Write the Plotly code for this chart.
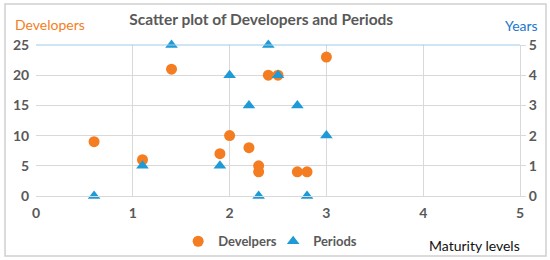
import plotly.graph_objects as go

# Data
dev_x = [0.6, 1.1, 1.4, 1.9, 2.0, 2.2, 2.3, 2.3, 2.4, 2.5, 2.7, 2.8, 3.0]
dev_y = [9, 6, 21, 7, 10, 8, 5, 4, 20, 20, 4, 4, 23]
per_x = [0.6, 1.1, 1.4, 1.9, 2.0, 2.2, 2.3, 2.4, 2.5, 2.7, 2.8, 3.0]
per_y = [0, 1, 5, 1, 4, 3, 0, 5, 4, 3, 0, 2]
x_ticks = [0, 1, 2, 3, 4, 5]
y_ticks = [0, 5, 10, 15, 20, 25]
y2_ticks = [0, 1, 2, 3, 4, 5]

ORANGE = "#F47D22"
BLUE = "#1E9AD6"
GRID = "#D9D9D9"
TXT = "#595959"
FONT = "Lato"

fig = go.Figure()
fig.add_trace(go.Scatter(x=dev_x, y=dev_y, mode="markers", name="Develpers",
                         marker=dict(symbol="circle", size=11, color=ORANGE),
                         cliponaxis=False, yaxis="y"))
fig.add_trace(go.Scatter(x=per_x, y=per_y, mode="markers", name="Periods",
                         marker=dict(symbol="triangle-up", size=11, color=BLUE),
                         cliponaxis=False, yaxis="y2"))

tickfont = dict(family=FONT, size=14, color=TXT, weight="bold")

fig.update_layout(
    width=550, height=260,
    margin=dict(l=36, r=30, t=45, b=64, autoexpand=False),
    paper_bgcolor="white", plot_bgcolor="white",
    title=dict(text="Scatter plot of Developers and Periods", x=0.475, xanchor="center",
               y=0.925, yanchor="middle",
               font=dict(family=FONT, size=15.5, color=TXT, weight="bold")),
    xaxis=dict(range=[0, 5], tickvals=x_ticks, showgrid=True, gridcolor=GRID, gridwidth=1,
               zeroline=False, showline=True, linecolor=GRID, linewidth=1,
               tickfont=tickfont, ticks="outside", ticklen=4, tickcolor="white",
               automargin=False),
    yaxis=dict(range=[0, 25], tickvals=y_ticks, showgrid=True, gridcolor=GRID, gridwidth=1,
               zeroline=False, showline=False, tickfont=tickfont,
               ticks="outside", ticklen=3, tickcolor="white", automargin=False),
    yaxis2=dict(range=[0, 5], tickvals=y2_ticks, overlaying="y", side="right",
                showgrid=False, zeroline=False, showline=True, linecolor=GRID, linewidth=1,
                ticks="outside", ticklen=5, tickcolor=GRID, tickfont=tickfont,
                automargin=False),
    legend=dict(orientation="h", x=0.49, xanchor="center", y=-0.30, yanchor="middle",
                font=dict(family=FONT, size=13, color=TXT, weight="bold"),
                itemwidth=30, entrywidth=50, entrywidthmode="pixels",
                bgcolor="rgba(0,0,0,0)"),
    shapes=[
        dict(type="line", xref="paper", yref="paper", x0=0, x1=1, y0=1, y1=1,
             line=dict(color="#9DCBEA", width=1.2)),
        dict(type="rect", xref="paper", yref="paper", x0=-0.064, x1=1.0537,
             y0=-0.397, y1=1.2715, line=dict(color="#D0D0D0", width=1.5)),
    ],
    annotations=[
        dict(text="Developers", xref="paper", yref="paper", x=0.029, y=1.139,
             xanchor="center", yanchor="middle", showarrow=False,
             font=dict(family=FONT, size=14, color=ORANGE)),
        dict(text="Years", xref="paper", yref="paper", x=1.004, y=1.13,
             xanchor="center", yanchor="middle", showarrow=False,
             font=dict(family=FONT, size=14, color="#2277CC")),
        dict(text="Maturity levels", xref="paper", yref="paper", x=0.905, y=-0.325,
             xanchor="center", yanchor="middle", showarrow=False,
             font=dict(family=FONT, size=14, color="#111111")),
    ],
)

fig.write_html("out.html", config={"displayModeBar": False},
               post_script="document.body.style.margin='0';document.body.style.overflow='hidden';")
